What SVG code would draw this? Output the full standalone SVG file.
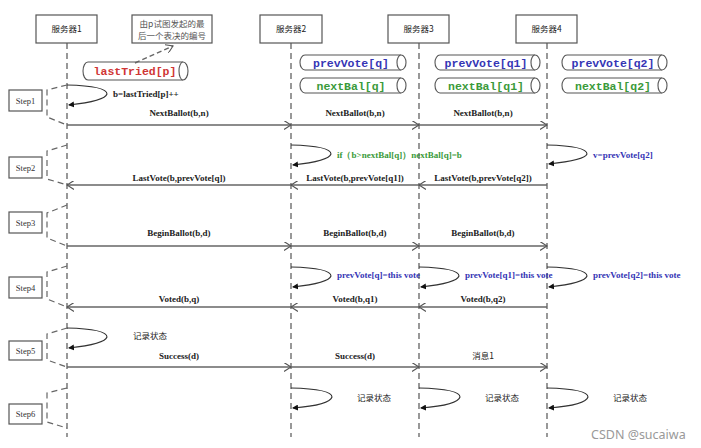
<svg xmlns="http://www.w3.org/2000/svg" width="701" height="448" viewBox="0 0 701 448">
<style>
.box{fill:#fff;stroke:#555;stroke-width:1.2}
.life{stroke:#555;stroke-width:1.2;stroke-dasharray:6 4;fill:none}
.brk{stroke:#666;stroke-width:1.2;stroke-dasharray:6 4;fill:none}
.msg{stroke:#666;stroke-width:1.4;fill:none;marker-end:url(#open)}
.loop{stroke:#333;stroke-width:1.1;fill:none;marker-end:url(#solid)}
.srv{font-family:"Noto Sans CJK SC","Noto Sans",sans-serif;font-size:8.5px;fill:#222;text-anchor:middle}
.note{font-family:"Noto Sans CJK SC","Noto Sans",sans-serif;font-size:8.5px;fill:#555;text-anchor:middle}
.lbl{font-family:"Liberation Serif",serif;font-weight:bold;font-size:9px;fill:#222;text-anchor:middle}
.txt{font-family:"Liberation Serif",serif;font-weight:bold;font-size:9px;fill:#222}
.blue{font-family:"Liberation Serif",serif;font-weight:bold;font-size:9px;fill:#3535b5}
.green{font-family:"Liberation Serif",serif;font-weight:bold;font-size:9px;fill:#3a9a3a}
.cjk{font-family:"Noto Sans CJK SC","Noto Sans",sans-serif;font-size:8.5px;fill:#222}
.step{font-family:"Liberation Serif",serif;font-size:8.5px;fill:#333;text-anchor:middle}
.cyl{fill:#fff;stroke:#555;stroke-width:1.1}
.mono{font-family:"Liberation Mono",monospace;font-weight:bold;font-size:11.5px;text-anchor:middle}
</style>
<defs>
<marker id="open" markerWidth="8" markerHeight="9" refX="7" refY="4.5" orient="auto" markerUnits="userSpaceOnUse"><path d="M0,0 L7,4.5 L0,9" fill="none" stroke="#555" stroke-width="1.1"/></marker>
<marker id="solid" markerWidth="6" markerHeight="6" refX="5" refY="3" orient="auto" markerUnits="userSpaceOnUse"><path d="M0,0 L6,3 L0,6 Z" fill="#111"/></marker>
</defs>
<rect width="701" height="448" fill="#fff"/>

<g id="server1"><rect class="box" x="36" y="15" width="61" height="28"/><text class="srv" x="66.5" y="32">服务器1</text><line class="life" x1="67" y1="43" x2="67" y2="437"/></g>
<g id="server2"><rect class="box" x="260" y="15" width="62" height="28"/><text class="srv" x="291" y="32">服务器2</text><line class="life" x1="291" y1="43" x2="291" y2="437"/></g>
<g id="server3"><rect class="box" x="388" y="15" width="61" height="28"/><text class="srv" x="418.5" y="32">服务器3</text><line class="life" x1="419" y1="43" x2="419" y2="437"/></g>
<g id="server4"><rect class="box" x="516" y="15" width="61" height="28"/><text class="srv" x="546.5" y="32">服务器4</text><line class="life" x1="547" y1="43" x2="547" y2="437"/></g>

<g id="note"><rect class="box" x="132" y="15" width="80" height="28"/><text class="note" x="172" y="26.5">由p试图发起的最</text><text class="note" x="172" y="38.5">后一个表决的编号</text></g>

<g id="lastTried"><path class="cyl" d="M88,62 L183,62 A5,9 0 0 1 183,80 L88,80 A5,9 0 0 1 88,62 Z"/><path class="cyl" d="M183,62 A4,9 0 0 0 183,80" fill="none"/><text class="mono" x="135" y="75" fill="#d03535">lastTried[p]</text></g>
<g id="prevVote_q"><path class="cyl" d="M305,55 L401,55 A5,7.5 0 0 1 401,70 L305,70 A5,7.5 0 0 1 305,55 Z"/><path class="cyl" d="M401,55 A4,7.5 0 0 0 401,70" fill="none"/><text class="mono" x="351" y="66.5" fill="#3535b5">prevVote[q]</text></g>
<g id="nextBal_q"><path class="cyl" d="M305,78 L401,78 A5,7.5 0 0 1 401,93 L305,93 A5,7.5 0 0 1 305,78 Z"/><path class="cyl" d="M401,78 A4,7.5 0 0 0 401,93" fill="none"/><text class="mono" x="351" y="89.5" fill="#3a9a3a">nextBal[q]</text></g>
<g id="prevVote_q1"><path class="cyl" d="M440,55 L535,55 A5,7.5 0 0 1 535,70 L440,70 A5,7.5 0 0 1 440,55 Z"/><path class="cyl" d="M535,55 A4,7.5 0 0 0 535,70" fill="none"/><text class="mono" x="486" y="66.5" fill="#3535b5">prevVote[q1]</text></g>
<g id="nextBal_q1"><path class="cyl" d="M440,78 L535,78 A5,7.5 0 0 1 535,93 L440,93 A5,7.5 0 0 1 440,78 Z"/><path class="cyl" d="M535,78 A4,7.5 0 0 0 535,93" fill="none"/><text class="mono" x="486" y="89.5" fill="#3a9a3a">nextBal[q1]</text></g>
<g id="prevVote_q2"><path class="cyl" d="M567,55 L662,55 A5,7.5 0 0 1 662,70 L567,70 A5,7.5 0 0 1 567,55 Z"/><path class="cyl" d="M662,55 A4,7.5 0 0 0 662,70" fill="none"/><text class="mono" x="613" y="66.5" fill="#3535b5">prevVote[q2]</text></g>
<g id="nextBal_q2"><path class="cyl" d="M567,78 L662,78 A5,7.5 0 0 1 662,93 L567,93 A5,7.5 0 0 1 567,78 Z"/><path class="cyl" d="M662,78 A4,7.5 0 0 0 662,93" fill="none"/><text class="mono" x="613" y="89.5" fill="#3a9a3a">nextBal[q2]</text></g>

<g id="step1"><rect class="box" x="9" y="90" width="33" height="21"/><text class="step" x="25.5" y="103.5">Step1</text></g>
<g id="step2"><rect class="box" x="9" y="157" width="33" height="21"/><text class="step" x="25.5" y="170.5">Step2</text></g>
<g id="step3"><rect class="box" x="9" y="212" width="33" height="21"/><text class="step" x="25.5" y="225.5">Step3</text></g>
<g id="step4"><rect class="box" x="9" y="277" width="33" height="21"/><text class="step" x="25.5" y="290.5">Step4</text></g>
<g id="step5"><rect class="box" x="9" y="341" width="33" height="19"/><text class="step" x="25.5" y="353.5">Step5</text></g>
<g id="step6"><rect class="box" x="9" y="404" width="33" height="20"/><text class="step" x="25.5" y="417">Step6</text></g>

<g id="connectors">
<path class="msg" d="M135,63 L173,46" stroke-dasharray="5 3"/>
<path class="brk" d="M67,85 L47,90 L47,117 L67,125"/>
<path class="brk" d="M67,145 L47,151 L47,179 L67,185"/>
<path class="brk" d="M67,205 L47,213 L47,238 L67,246"/>
<path class="brk" d="M67,266 L47,272 L47,299 L67,307"/>
<path class="brk" d="M67,328 L47,334 L47,360 L67,367"/>
<path class="brk" d="M67,388 L47,393 L47,422 L67,428"/>

<path class="loop" d="M67,85 Q107,86 107,94 Q105,101 69,105"/>
<path class="loop" d="M291,145 Q331,146 331,154 Q329,161 293,165"/>
<path class="loop" d="M547,145 Q587,146 587,154 Q585,160 549,164"/>
<path class="loop" d="M291,267 Q331,268 331,276 Q329,283 293,287"/>
<path class="loop" d="M419,267 Q459,268 459,276 Q457,283 421,287"/>
<path class="loop" d="M547,267 Q587,268 587,276 Q585,283 549,287"/>
<path class="loop" d="M67,328 Q107,329 107,337 Q105,344 69,348"/>
<path class="loop" d="M291,388 Q332,389 332,397 Q330,405 293,408"/>
<path class="loop" d="M419,388 Q460,389 460,397 Q458,405 421,408"/>
<path class="loop" d="M547,388 Q588,389 588,397 Q586,405 549,408"/>

<path class="msg" d="M67,125 L291,125"/>
<path class="msg" d="M291,125 L419,125"/>
<path class="msg" d="M419,125 L547,125"/>
<path class="msg" d="M291,185 L67,185"/>
<path class="msg" d="M419,185 L291,185"/>
<path class="msg" d="M547,185 L419,185"/>
<path class="msg" d="M67,246 L291,246"/>
<path class="msg" d="M291,246 L419,246"/>
<path class="msg" d="M419,246 L547,246"/>
<path class="msg" d="M291,307 L67,307"/>
<path class="msg" d="M419,307 L291,307"/>
<path class="msg" d="M547,307 L419,307"/>
<path class="msg" d="M67,367 L291,367"/>
<path class="msg" d="M291,367 L419,367"/>
<path class="msg" d="M419,367 L547,367"/>

<text class="lbl" x="179" y="116">NextBallot(b,n)</text>
<text class="lbl" x="355" y="116">NextBallot(b,n)</text>
<text class="lbl" x="483" y="116">NextBallot(b,n)</text>
<text class="lbl" x="179" y="181">LastVote(b,prevVote[q])</text>
<text class="lbl" x="355" y="181">LastVote(b,prevVote[q1])</text>
<text class="lbl" x="483" y="181">LastVote(b,prevVote[q2])</text>
<text class="lbl" x="179" y="236">BeginBallot(b,d)</text>
<text class="lbl" x="355" y="236">BeginBallot(b,d)</text>
<text class="lbl" x="483" y="236">BeginBallot(b,d)</text>
<text class="lbl" x="179" y="302">Voted(b,q)</text>
<text class="lbl" x="355" y="302">Voted(b,q1)</text>
<text class="lbl" x="483" y="302">Voted(b,q2)</text>
<text class="lbl" x="179" y="359">Success(d)</text>
<text class="lbl" x="355" y="359">Success(d)</text>
<text class="srv" x="483" y="359">消息1</text>

<text class="txt" x="113" y="97">b=lastTried[p]++</text>
<text class="green" x="337" y="158">if（b&gt;nextBal[q]）nextBal[q]=b</text>
<text class="blue" x="593" y="158">v=prevVote[q2]</text>
<text class="blue" x="337" y="278">prevVote[q]=this vote</text>
<text class="blue" x="465" y="278">prevVote[q1]=this vote</text>
<text class="blue" x="593" y="278">prevVote[q2]=this vote</text>
<text class="cjk" x="133" y="339">记录状态</text>
<text class="cjk" x="357" y="401">记录状态</text>
<text class="cjk" x="485" y="401">记录状态</text>
<text class="cjk" x="613" y="401">记录状态</text>
</g>
<text x="591" y="439" font-family="'Noto Sans','Liberation Sans',sans-serif" font-size="12.5px" fill="#999">CSDN @sucaiwa</text>
</svg>
